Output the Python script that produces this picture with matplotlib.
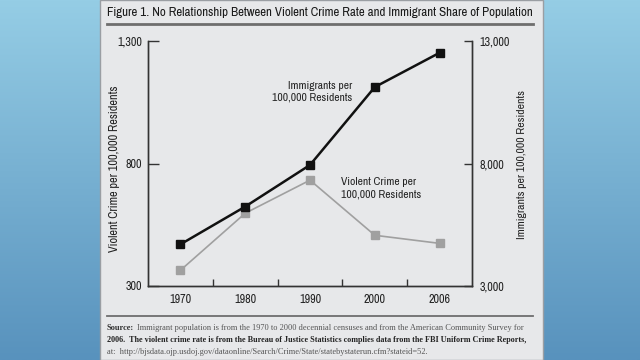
import matplotlib.pyplot as plt
import matplotlib.patches as mpatches
import numpy as np

# data
years = ["1970", "1980", "1990", "2000", "2006"]
crime = [364, 597, 732, 507, 474]            # violent crime per 100,000 (left axis)
immigrants = [4700, 6240, 7940, 11120, 12520]  # immigrants per 100,000 (right axis)
left_ticks = [300, 800, 1300]
right_ticks = [3000, 8000, 13000]

plt.rcParams['font.family'] = ['Archivo Narrow', 'Roboto Condensed', 'Liberation Sans', 'DejaVu Sans']

fig = plt.figure(figsize=(6.4, 3.6), dpi=100)

# blue slide background
bg = fig.add_axes([0, 0, 1, 1], zorder=-10)
grad = np.linspace(0, 1, 256).reshape(-1, 1)
top = np.array([0x95, 0xcd, 0xe5]) / 255
bot = np.array([0x58, 0x92, 0xbd]) / 255
img = top + (bot - top) * grad[..., None]
bg.imshow(img, aspect='auto', extent=[0, 1, 0, 1])
bg.set_axis_off()

# light panel holding the figure
fig.patches.append(mpatches.Rectangle((100 / 640, 0), 443 / 640, 1, transform=fig.transFigure,
                                      facecolor='#e7e8ea', edgecolor='#9a9ea3', linewidth=1.0,
                                      zorder=-5))

fig.text(320 / 640, 1 - 13 / 360,
         "Figure 1. No Relationship Between Violent Crime Rate and Immigrant Share of Population",
         ha='center', va='center', fontsize=9.3, color='#1a1a1a')
fig.add_artist(plt.Line2D([107 / 640, 533 / 640], [1 - 24 / 360] * 2, color='#6e6e6e',
                          linewidth=2, transform=fig.transFigure))
fig.add_artist(plt.Line2D([107 / 640, 533 / 640], [1 - 316 / 360] * 2, color='#6e6e6e',
                          linewidth=1.3, transform=fig.transFigure))

ax = fig.add_axes([148 / 640, 1 - 286 / 360, 324 / 640, 245 / 360])
ax.set_facecolor('none')
ax2 = ax.twinx()

x = np.arange(len(years))
ax.plot(x, crime, color='#a0a0a0', linewidth=1.2, marker='s', markersize=5.5,
        markerfacecolor='#a0a0a0', markeredgecolor='#a0a0a0', zorder=3)
ax2.plot(x, immigrants, color='#111111', linewidth=1.8, marker='s', markersize=6,
         markerfacecolor='#111111', markeredgecolor='#111111', zorder=4)

ax.set_xlim(-0.5, len(years) - 0.5)
ax.set_ylim(300, 1300)
ax2.set_ylim(3000, 13000)

ax.set_yticks(left_ticks)
ax.set_yticklabels([f"{v:,}" for v in left_ticks])
ax2.set_yticks(right_ticks)
ax2.set_yticklabels([f"{v:,}" for v in right_ticks])

# x labels at category centres, tick marks between categories
ax.set_xticks(x)
ax.set_xticklabels(years)
ax.set_xticks(x[:-1] + 0.5, minor=True)
ax.tick_params(axis='x', which='major', length=0, pad=6, labelsize=8.7, colors='#222222')
ax.tick_params(axis='x', which='minor', direction='in', length=5, width=1, color='#333333')
ax.tick_params(axis='y', direction='in', length=8, width=1, labelsize=8.7, pad=4.5,
               colors='#333333', labelcolor='#222222')
ax2.tick_params(axis='y', direction='in', length=6, width=1, labelsize=8.7, pad=5.5,
                colors='#333333', labelcolor='#222222')

for a in (ax, ax2):
    a.spines['top'].set_visible(False)
    for s in ('left', 'right', 'bottom'):
        a.spines[s].set_color('#333333')
        a.spines[s].set_linewidth(1)

fig.text(115 / 640, 1 - 169 / 360, "Violent Crime per 100,000 Residents", rotation=90,
         ha='center', va='center', fontsize=8.8, color='#222222')
fig.text(522 / 640, 1 - 165 / 360, "Immigrants per 100,000 Residents", rotation=90,
         ha='center', va='center', fontsize=8.4, color='#222222')

ax2.text(2.65, 10940, "Immigrants per\n100,000 Residents", ha='right', va='center',
         fontsize=8.3, color='#222222', linespacing=1.2)
ax.text(2.48, 745, "Violent Crime per\n100,000 Residents", ha='left', va='top',
        fontsize=8.3, color='#222222', linespacing=1.35)

serif = ['Liberation Serif', 'DejaVu Serif']
src = fig.text(107 / 640, 1 - 328 / 360, "Source:", fontsize=6, family=serif, weight='bold',
               color='#333333', va='center')
fig.add_artist(plt.Annotation(
    "Immigrant population is from the 1970 to 2000 decennial censuses and from the American Community Survey for",
    xy=(1, 0.5), xycoords=src, xytext=(2, 0), textcoords='offset points',
    fontsize=6, family=serif, color='#555555', va='center'))
fig.text(107 / 640, 1 - 340 / 360,
         "2006.  The violent crime rate is from the Bureau of Justice Statistics complies data from the FBI Uniform Crime Reports,",
         fontsize=5.85, family=serif, weight='bold', color='#222222', va='center')
fig.text(107 / 640, 1 - 352 / 360,
         "at:  http://bjsdata.ojp.usdoj.gov/dataonline/Search/Crime/State/statebystaterun.cfm?stateid=52.",
         fontsize=6, family=serif, color='#555555', va='center')

fig.savefig("out.png", dpi=100)
